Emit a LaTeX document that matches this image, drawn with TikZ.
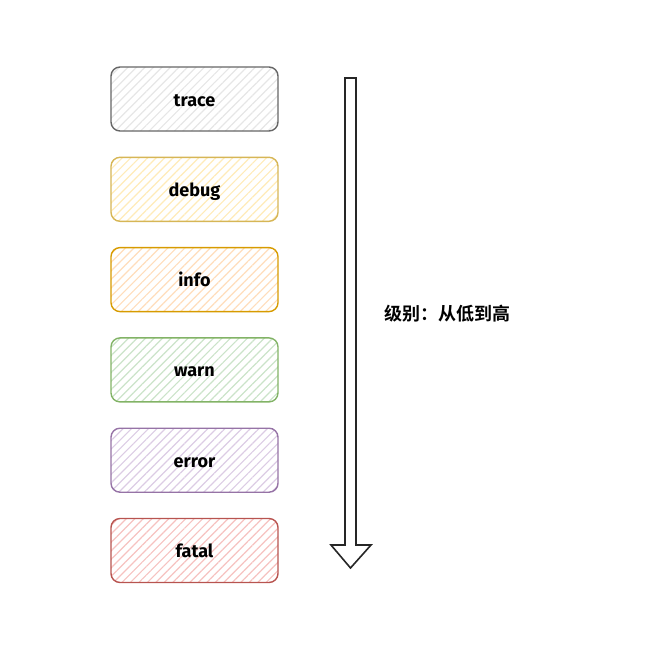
\documentclass[tikz,border=0pt]{standalone}
\usepackage{fontspec}
\setmainfont{Fira Sans}
\newfontfamily\cjk{Noto Sans CJK SC}[BoldFont={* Bold}]
\usetikzlibrary{patterns.meta,calc}
\definecolor{trS}{HTML}{666666}\definecolor{trF}{HTML}{E6E6E6}
\definecolor{dbS}{HTML}{D6B656}\definecolor{dbF}{HTML}{FFEBB8}
\definecolor{inS}{HTML}{D79B00}\definecolor{inF}{HTML}{FFDDBB}
\definecolor{waS}{HTML}{82B366}\definecolor{waF}{HTML}{CBE3C9}
\definecolor{erS}{HTML}{9673A6}\definecolor{erF}{HTML}{DCCCE4}
\definecolor{faS}{HTML}{B85450}\definecolor{faF}{HTML}{F6C2C0}
\tikzset{
  lvl/.style n args={2}{draw=#1, line width=1.4pt, rounded corners=9pt,
    minimum width=167pt, minimum height=64pt, inner sep=0pt,
    text height=14pt, text depth=0pt,
    pattern={Lines[angle=45,distance=6pt,line width=1.2pt]}, pattern color=#2,
    font=\fontsize{18}{21}\selectfont\bfseries, text=black},
  arr/.style={draw=black!85, line width=1.6pt, line join=miter, fill=white}
}
\begin{document}
\begin{tikzpicture}[x=1pt,y=-1pt]
\useasboundingbox (0,0) rectangle (655,645);
\node[lvl={trS}{trF}] (trace) at (194.5,99) {trace};
\node[lvl={dbS}{dbF}] (debug) at (194.5,189.3) {debug};
\node[lvl={inS}{inF}] (info) at (194.5,279.6) {info};
\node[lvl={waS}{waF}] (warn) at (194.5,369.9) {warn};
\node[lvl={erS}{erF}] (error) at (194.5,460.2) {error};
\node[lvl={faS}{faF}] (fatal) at (194.5,550.5) {fatal};
\coordinate (top) at (350.5,78);
\coordinate (tip) at (350.5,568);
\draw[arr] ($(top)+(-5.5,0)$) -- ($(top)+(5.5,0)$) -- (356,545) -- (371,545) -- (tip) -- (331,545) -- (345,545) -- cycle;
\node[font=\cjk\fontsize{18}{21}\selectfont\bfseries, anchor=west] (lbl) at (381,314) {级别：从低到高};
\end{tikzpicture}
\end{document}
